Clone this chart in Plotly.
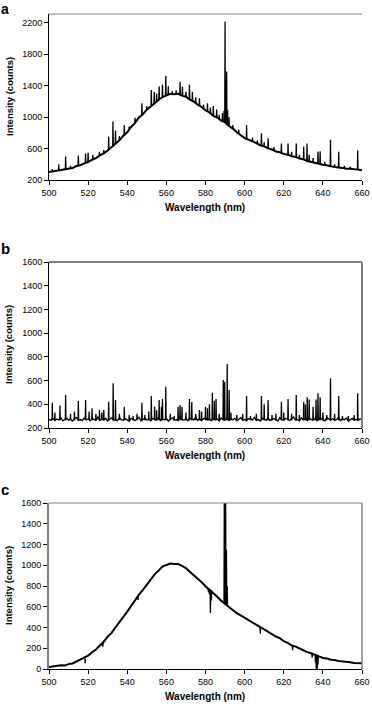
import plotly.graph_objects as go

# ---------------- DATA ----------------
wl_2nm = list(range(500, 661, 2))
wl_1nm = list(range(500, 661, 1))

# Panel a: broad emission baseline (counts), 2-nm steps
a_base = [300, 308, 312, 322, 328, 342, 352, 378, 388, 412,
          428, 458, 478, 514, 538, 574, 618, 674, 706, 764,
          806, 874, 926, 994, 1036, 1094, 1136, 1184, 1216, 1254,
          1272, 1294, 1290, 1296, 1272, 1258, 1222, 1198, 1156, 1128,
          1086, 1058, 1016, 994, 956, 934, 886, 854, 806, 774,
          732, 714, 686, 668, 642, 628, 602, 588, 562, 553,
          532, 522, 502, 493, 472, 462, 442, 433, 418, 407,
          393, 388, 373, 370, 358, 354, 343, 342, 333, 332, 325]
# Panel a spikes: (wavelength, base, peak)
a_spikes = [(501.7, 302, 340), (505, 318, 400), (508.5, 332, 500), (511, 345, 380),
            (515, 385, 510), (518.7, 415, 535), (520, 430, 545), (522.4, 460, 520),
            (525.8, 505, 560), (528, 545, 580), (530.5, 580, 750), (532.7, 625, 945),
            (534, 665, 830), (536, 710, 760), (538.5, 770, 900), (541, 840, 880),
            (544, 930, 990), (547.5, 1020, 1175), (550, 1090, 1140), (552.3, 1145, 1345),
            (553.8, 1175, 1320), (555, 1200, 1300), (556.3, 1225, 1390), (558, 1250, 1410),
            (559.7, 1270, 1525), (561, 1285, 1390), (563, 1292, 1330), (565, 1293, 1340),
            (567, 1285, 1450), (568.2, 1275, 1385), (570, 1255, 1320), (571.8, 1230, 1410),
            (573.3, 1205, 1320), (575, 1180, 1250), (576.9, 1145, 1240), (579, 1105, 1160),
            (581, 1075, 1175), (582.5, 1050, 1120), (584, 1020, 1140), (585.7, 993, 1095),
            (587, 975, 1030), (588.7, 955, 1050), (589.5, 945, 1080), (590.0, 935, 2215),
            (590.3, 930, 1500), (590.8, 925, 1580), (591.3, 915, 1090), (592, 895, 1000),
            (594, 850, 900), (597, 790, 840), (601, 715, 900), (604, 690, 740),
            (606.5, 660, 700), (608.6, 640, 795), (610, 625, 680), (612, 605, 730),
            (615, 575, 620), (618.8, 545, 665), (622.2, 518, 665), (624, 505, 560),
            (626.4, 488, 665), (628, 475, 520), (630.2, 458, 625), (631.9, 445, 665),
            (633, 438, 520), (635, 425, 480), (637.5, 410, 560), (638.6, 402, 565),
            (641, 390, 430), (643.9, 377, 710), (646, 368, 400), (648.1, 360, 560),
            (651, 350, 380), (654, 340, 370), (657.8, 330, 575)]

# Panel b: background baseline (counts), 1-nm steps
b_base = [272, 265, 280, 262, 275, 268, 290, 260, 270, 283, 266, 274, 258, 279, 287, 264, 271, 262, 285, 269,
          276, 260, 281, 270, 265, 292, 263, 274, 268, 280, 259, 277, 284, 266, 271, 262, 288, 270, 265, 279,
          268, 257, 282, 273, 264, 276, 290, 261, 270, 284, 267, 275, 260, 281, 272, 266, 289, 263, 274, 269,
          280, 258, 276, 285, 265, 271, 262, 287, 270, 266, 278, 261, 283, 272, 268, 291, 264, 275, 260, 279,
          286, 267, 273, 262, 281, 269, 276, 259, 284, 271, 265, 288, 263, 277, 270, 282, 260, 274, 287, 266,
          272, 261, 280, 275, 268, 290, 264, 271, 259, 283, 276, 266, 285, 262, 273, 279, 268, 260, 288, 270,
          265, 281, 274, 263, 277, 292, 267, 271, 260, 284, 269, 276, 262, 286, 272, 265, 279, 261, 275, 283,
          268, 260, 287, 273, 266, 280, 264, 271, 290, 262, 277, 269, 284, 259, 274, 281, 266, 272, 263, 278,
          270]
# Panel b spikes: (wavelength, base, peak)
b_spikes = [(501.7, 265, 413), (503, 268, 330), (505.6, 265, 390), (508.5, 265, 478),
            (511, 268, 320), (513, 265, 340), (515, 265, 428), (518.7, 265, 436),
            (520.5, 268, 340), (522, 265, 366), (524, 265, 320), (525.8, 265, 352),
            (527, 268, 330), (528, 265, 352), (530.5, 265, 422), (532.8, 265, 577),
            (534, 265, 436), (536, 268, 320), (538.5, 265, 380), (541, 265, 310),
            (543, 265, 300), (545, 265, 320), (547.5, 265, 413), (549, 265, 310),
            (551, 265, 340), (552.3, 265, 470), (554, 265, 380), (555, 265, 350),
            (556.3, 265, 436), (557.5, 265, 380), (558, 265, 444), (559.7, 265, 548),
            (562, 265, 320), (564, 265, 300), (566, 265, 380), (567, 265, 394),
            (568, 265, 380), (570, 265, 330), (571.8, 265, 444), (573, 265, 420),
            (575, 265, 320), (576.9, 265, 352), (578, 265, 340), (580, 265, 380),
            (581, 265, 366), (582, 265, 400), (583.5, 265, 498), (584.5, 265, 430),
            (585.4, 265, 444), (587, 265, 320), (589.1, 265, 605), (589.8, 265, 590),
            (591.1, 265, 740), (592.1, 265, 520), (593, 265, 330), (596, 265, 310),
            (599, 265, 320), (601, 265, 470), (603, 265, 300), (606, 265, 320),
            (608.6, 265, 470), (610, 265, 400), (612, 265, 436), (614, 265, 310),
            (616, 265, 320), (618.8, 265, 422), (620, 265, 330), (622.2, 265, 444),
            (624, 265, 320), (626.4, 265, 478), (628, 265, 310), (630.2, 265, 422),
            (631, 265, 400), (632, 265, 460), (633, 265, 440), (635, 265, 380),
            (636.5, 265, 440), (637.5, 265, 492), (638.6, 265, 460), (640, 265, 330),
            (642, 265, 310), (643.9, 265, 619), (646, 265, 320), (648.1, 265, 470),
            (650, 265, 300), (653, 265, 300), (656, 265, 310), (657.8, 265, 492)]

# Panel c: corrected spectrum baseline (counts), 2-nm steps
c_base = [20, 27, 28, 37, 33, 47, 53, 72, 83, 102,
          128, 162, 188, 227, 263, 312, 348, 402, 448, 502,
          553, 612, 658, 717, 763, 812, 858, 912, 948, 987,
          1003, 1017, 1013, 1012, 993, 972, 938, 907, 868, 837,
          798, 767, 728, 697, 658, 627, 593, 567, 538, 517,
          493, 472, 448, 427, 403, 382, 358, 342, 313, 297,
          268, 252, 228, 217, 198, 187, 163, 152, 133, 122,
          106, 102, 90, 87, 76, 74, 66, 66, 58, 59, 55]
# Panel c spikes/dips: (wavelength, base, extreme)
c_spikes = [(518.5, 100, 55), (527.5, 250, 215), (545.5, 700, 665), (581.5, 775, 740),
            (582.0, 770, 720), (582.5, 765, 540), (583.0, 760, 660), (589.6, 628, 1600),
            (590.0, 625, 1600), (590.3, 622, 1600), (590.7, 618, 1150), (591.1, 612, 800),
            (608, 405, 340), (624.5, 225, 180), (634.5, 148, 110), (636.2, 137, 60),
            (636.6, 134, 0), (637.1, 131, 0), (637.5, 128, 40)]

x_ticks = [500, 520, 540, 560, 580, 600, 620, 640, 660]
a_yticks = [200, 600, 1000, 1400, 1800, 2200]
b_yticks = [200, 400, 600, 800, 1000, 1200, 1400, 1600]
c_yticks = [0, 200, 400, 600, 800, 1000, 1200, 1400, 1600]

x_title = "Wavelength (nm)"
y_title = "Intensity (counts)"
panel_labels = ["a", "b", "c"]

# ---------------- FIGURE ----------------
FONT = "Liberation Sans, Arial, sans-serif"
W, H = 372, 707


def spike_xy(spikes):
    xs, ys = [], []
    for w, b, p in spikes:
        xs += [w - 0.15, w, w + 0.15, None]
        ys += [b, p, b, None]
    return xs, ys


fig = go.Figure()

panels = [
    dict(base_x=wl_2nm, base_y=a_base, spikes=a_spikes, lw=2.0,
         top=14, bottom=180, yr=[200, 2310], yt=a_yticks, ytitle_x=10),
    dict(base_x=wl_1nm, base_y=b_base, spikes=b_spikes, lw=1.3,
         top=262, bottom=428, yr=[200, 1600], yt=b_yticks, ytitle_x=8),
    dict(base_x=wl_2nm, base_y=c_base, spikes=c_spikes, lw=2.0,
         top=503, bottom=669, yr=[0, 1600], yt=c_yticks, ytitle_x=8),
]

x0_px, x1_px = 49, 362
annotations = []
shapes = []
for i, p in enumerate(panels):
    n = "" if i == 0 else str(i + 1)
    xa, ya = "x" + n, "y" + n
    fig.add_trace(go.Scatter(x=p["base_x"], y=p["base_y"], mode="lines",
                             line=dict(color="black", width=p["lw"]),
                             xaxis=xa, yaxis=ya, hoverinfo="skip", showlegend=False))
    sx, sy = spike_xy(p["spikes"])
    fig.add_trace(go.Scatter(x=sx, y=sy, mode="lines",
                             line=dict(color="black", width=1.3),
                             xaxis=xa, yaxis=ya, hoverinfo="skip", showlegend=False,
                             connectgaps=False))
    ydom = [1 - p["bottom"] / H, 1 - p["top"] / H]
    left_color = "#808080" if i == 2 else "black"
    left_width = 2 if i == 2 else 1
    fig.update_layout(**{
        "xaxis" + n: dict(domain=[x0_px / W, x1_px / W], range=[500, 660], anchor=ya,
                          tickvals=x_ticks, ticks="outside", ticklen=4, tickcolor="black",
                          showline=True, linecolor="black", linewidth=1,
                          showgrid=False, zeroline=False, automargin=False,
                          tickfont=dict(family=FONT, size=9, color="black")),
        "yaxis" + n: dict(domain=ydom, range=p["yr"], anchor=xa,
                          tickvals=p["yt"], ticks="outside", ticklen=4, tickcolor="black",
                          showline=True, linecolor=left_color, linewidth=left_width,
                          showgrid=False, zeroline=False, automargin=False,
                          tickfont=dict(family=FONT, size=9, color="black")),
    })
    # x axis title
    annotations.append(dict(text="<b>%s</b>" % x_title, xref="paper", yref="paper",
                            x=(x0_px + x1_px) / 2 / W,
                            y=1 - (p["bottom"] + 27) / H, xanchor="center", yanchor="middle",
                            showarrow=False, font=dict(family=FONT, size=10, color="black")))
    # y axis title
    annotations.append(dict(text="<b>%s</b>" % y_title, xref="paper", yref="paper",
                            x=p["ytitle_x"] / W, y=1 - (p["top"] + p["bottom"]) / 2 / H,
                            xanchor="center", yanchor="middle", textangle=-90,
                            showarrow=False, font=dict(family=FONT, size=9.5, color="black")))
    # border lines (top / right)
    xd, yd = xa + " domain", ya + " domain"
    if i == 0:
        shapes.append(dict(type="line", xref=xd, yref=yd, x0=0, x1=1, y0=1, y1=1,
                           line=dict(color="#808080", width=1)))
    elif i == 1:
        shapes.append(dict(type="line", xref=xd, yref=yd, x0=0, x1=1, y0=1, y1=1,
                           line=dict(color="black", width=1)))
        shapes.append(dict(type="line", xref=xd, yref=yd, x0=1, x1=1, y0=0, y1=1,
                           line=dict(color="#808080", width=2)))
    else:
        shapes.append(dict(type="line", xref=xd, yref=yd, x0=0, x1=1, y0=1, y1=1,
                           line=dict(color="#808080", width=1)))
        shapes.append(dict(type="line", xref=xd, yref=yd, x0=1, x1=1, y0=0, y1=1,
                           line=dict(color="#808080", width=1.5)))

# panel letters
for lbl, ypx, anch in zip(panel_labels, [0, 248, 490], ["top", "middle", "middle"]):
    annotations.append(dict(text="<b>%s</b>" % lbl, xref="paper", yref="paper",
                            x=0, y=1 - ypx / H, xanchor="left", yanchor=anch,
                            showarrow=False, borderpad=0,
                            font=dict(family=FONT, size=14 if lbl == "a" else 15, color="black")))

fig.update_layout(width=W, height=H,
                  margin=dict(l=0, r=0, t=0, b=0, pad=0, autoexpand=False),
                  paper_bgcolor="white", plot_bgcolor="white",
                  annotations=annotations, shapes=shapes, showlegend=False)

fig.write_html("out.html", config={"displayModeBar": False},
               post_script="document.body.style.margin='0';document.body.style.overflow='hidden';")
